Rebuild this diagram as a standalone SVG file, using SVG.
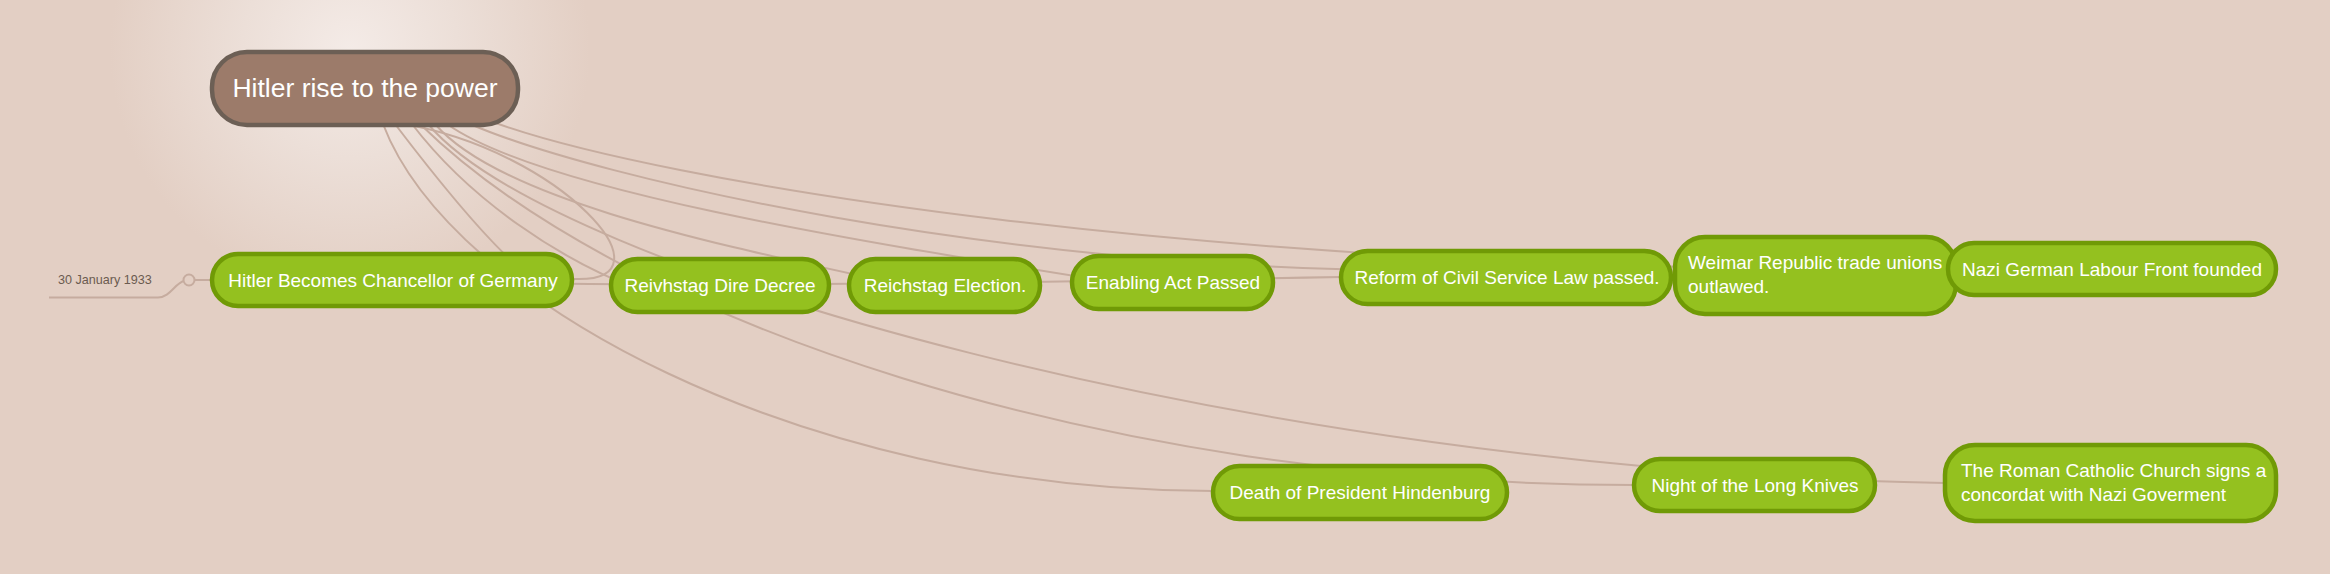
<svg xmlns="http://www.w3.org/2000/svg" width="2330" height="574" viewBox="0 0 2330 574">
<defs>
<radialGradient id="glow" cx="350" cy="50" r="240" gradientUnits="userSpaceOnUse">
<stop offset="0" stop-color="#f4ebe7"/>
<stop offset="0.45" stop-color="#ecdfd8"/>
<stop offset="1" stop-color="#e3cfc4"/>
</radialGradient>
<style>
.bg{fill:#e3cfc4}
.ln{fill:none;stroke:#c6ac9f;stroke-width:2}
.node{fill:#94c11f;stroke:#709a06;stroke-width:4.5}
.root{fill:#9c7b6a;stroke:#6c5f55;stroke-width:4.5}
.t{font-family:"Liberation Sans",Arial,sans-serif;font-size:19px;fill:#ffffff}
.tc{text-anchor:middle}
.rt{font-family:"Liberation Sans",Arial,sans-serif;font-size:26.5px;fill:#ffffff;text-anchor:middle}
.lbl{font-family:"Liberation Sans",Arial,sans-serif;font-size:12.6px;fill:#6b5b50}
</style>
</defs>
<rect class="bg" x="0" y="0" width="2330" height="574"/>
<rect x="0" y="0" width="2330" height="574" fill="url(#glow)"/>

<g id="connectors">
<path class="ln" d="M383,124 C450,300 800,491 1213,491"/>
<path class="ln" d="M395,124 C430,170 500,260 540,283 C700,287 1000,283 1341,277"/>
<path class="ln" d="M403,124 C560,150 680,283 574,279"/>
<path class="ln" d="M412,124 C470,200 560,260 640,290"/>
<path class="ln" d="M420,124 C620,320 1100,485 1634,485"/>
<path class="ln" d="M428,124 C550,270 1250,470 1945,483"/>
<path class="ln" d="M435,124 C500,200 720,245 880,280"/>
<path class="ln" d="M447,124 C540,190 850,240 1100,280"/>
<path class="ln" d="M470,124 C600,180 1000,268 1400,270"/>
<path class="ln" d="M493,122 C650,180 1200,275 1946,269"/>
<path class="ln" d="M49,297.5 H158 C170,297.5 175,283 184,281"/>
<line class="ln" x1="194.5" y1="280" x2="212" y2="280"/>
<circle class="ln" cx="189" cy="280" r="5.5"/>
</g>

<g id="date-label">
<text class="lbl" x="58" y="284">30 January 1933</text>
</g>

<g id="root">
<rect class="root" x="212" y="52" width="306" height="73" rx="35" ry="35"/>
<text class="rt" x="365" y="97">Hitler rise to the power</text>
</g>

<g id="n-chancellor">
<rect class="node" x="212" y="254" width="360" height="52" rx="26" ry="26"/>
<text class="t tc" x="393" y="286.5">Hitler Becomes Chancellor of Germany</text>
</g>

<g id="n-decree">
<rect class="node" x="611" y="259" width="218" height="53" rx="26.5" ry="26.5"/>
<text class="t tc" x="720" y="292">Reivhstag Dire Decree</text>
</g>

<g id="n-election">
<rect class="node" x="849" y="259" width="191" height="53" rx="26.5" ry="26.5"/>
<text class="t tc" x="945" y="292">Reichstag Election.</text>
</g>

<g id="n-enabling">
<rect class="node" x="1072" y="256" width="201" height="53" rx="26.5" ry="26.5"/>
<text class="t tc" x="1173" y="289">Enabling Act Passed</text>
</g>

<g id="n-reform">
<rect class="node" x="1341" y="251" width="330" height="53" rx="26.5" ry="26.5"/>
<text class="t tc" x="1507" y="284">Reform of Civil Service Law passed.</text>
</g>

<g id="n-weimar">
<rect class="node" x="1675" y="237" width="281" height="77" rx="30" ry="30"/>
<text class="t" x="1688" y="269">Weimar Republic trade unions</text>
<text class="t" x="1688" y="293">outlawed.</text>
</g>

<g id="n-labour">
<rect class="node" x="1948" y="243" width="328" height="52" rx="26" ry="26"/>
<text class="t tc" x="2112" y="275.5">Nazi German Labour Front founded</text>
</g>

<g id="n-hindenburg">
<rect class="node" x="1213" y="466" width="294" height="53" rx="26.5" ry="26.5"/>
<text class="t tc" x="1360" y="499">Death of President Hindenburg</text>
</g>

<g id="n-knives">
<rect class="node" x="1634" y="459" width="241" height="52" rx="26" ry="26"/>
<text class="t tc" x="1755" y="491.5">Night of the Long Knives</text>
</g>

<g id="n-concordat">
<rect class="node" x="1945" y="445" width="331" height="76" rx="30" ry="30"/>
<text class="t" x="1961" y="477">The Roman Catholic Church signs a</text>
<text class="t" x="1961" y="501">concordat with Nazi Goverment</text>
</g>
</svg>
